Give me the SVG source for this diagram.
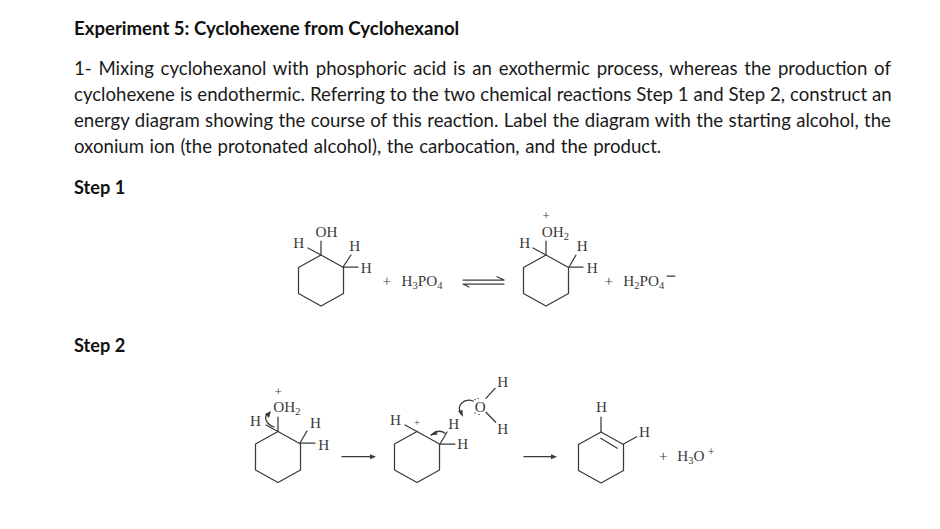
<svg xmlns="http://www.w3.org/2000/svg" width="940" height="529" viewBox="0 0 940 529">
<style>
.t{font-family:"Lato","Liberation Sans",sans-serif;font-size:18.6px;fill:#1a1a1a}
.b{font-weight:700;fill:#111}
.c{font-family:"Liberation Serif",serif;font-size:15.2px;fill:#3a3a3a}
.s{font-size:10.5px}
.p{font-size:12.500px}
.l{fill:none;stroke:#3a3a3a;stroke-width:1.25;stroke-linecap:round;stroke-linejoin:round}
.a{fill:#3a3a3a}
</style>
<defs>
<path id="ring" d="M0 0L22.500 12.500V38.500L0 51L-22.500 38.500V12.500Z"/>
</defs>
<rect width="940" height="529" fill="#fff"/>
<g id="prose">
<text class="t b" x="74" y="34.600">Experiment 5: Cyclohexene from Cyclohexanol</text>
<text class="t" x="74" y="74.600" style="word-spacing:2px">1- Mixing cyclohexanol with phosphoric acid is an exothermic process, whereas the production of</text>
<text class="t" x="74" y="100.600" style="word-spacing:0.2px">cyclohexene is endothermic. Referring to the two chemical reactions Step 1 and Step 2, construct an</text>
<text class="t" x="74" y="126.600" style="word-spacing:0.65px">energy diagram showing the course of this reaction. Label the diagram with the starting alcohol, the</text>
<text class="t" x="74" y="152.600" style="word-spacing:0.8px">oxonium ion (the protonated alcohol), the carbocation, and the product.</text>
<text class="t b" x="74" y="193.600" style="font-size:18.200px">Step 1</text>
<text class="t b" x="74" y="351.600" style="font-size:18.200px">Step 2</text>
</g>
<g id="cyclohexanol">
<use href="#ring" class="l" x="321" y="255"/>
<path class="l" d="M321 255V241M321 255L308 248M343 267L351 255M343 267H358"/>
<text class="c" x="315.500" y="236.700">OH</text>
<text class="c" x="293.300" y="247.700">H</text>
<text class="c" x="349.300" y="251">H</text>
<text class="c" x="360.700" y="272.700">H</text>
</g>
<g id="reagent-h3po4">
<text class="c" x="382.500" y="286">+</text>
<text class="c" x="401.500" y="286">H<tspan class="s" dy="3">3</tspan><tspan dy="-3">PO</tspan><tspan class="s" dy="3">4</tspan></text>
</g>
<g id="oxonium-1">
<use href="#ring" class="l" x="546" y="255"/>
<path class="l" d="M546 255V241M546 255L533 248M569 267L576 255M569 267H583"/>
<text class="c" x="541.700" y="236.700">OH<tspan class="s" dy="3">2</tspan></text>
<text class="c p" x="542.500" y="220.300">+</text>
<text class="c" x="519.300" y="247.700">H</text>
<text class="c" x="576.700" y="251">H</text>
<text class="c" x="586.700" y="272.700">H</text>
</g>
<g id="product-h2po4">
<text class="c" x="604.500" y="286">+</text>
<text class="c" x="623.300" y="286">H<tspan class="s" dy="3">2</tspan><tspan dy="-3">PO</tspan><tspan class="s" dy="3">4</tspan></text>
<path class="l" d="M667 276H675"/>
</g>
<g id="oxonium-2">
<use href="#ring" class="l" x="278" y="431.500"/>
<path class="l" d="M278 431.500V417M278 431.500L266 425M300 443L307 431M300 443H315"/>
<text class="c" x="273.300" y="412.300">OH<tspan class="s" dy="3">2</tspan></text>
<text class="c p" x="274.800" y="395.800">+</text>
<text class="c" x="250" y="425.700">H</text>
<text class="c" x="310" y="428.300">H</text>
<text class="c" x="318.300" y="450">H</text>
<path class="l" d="M274 427C266 424 264 418 267 414"/>
<path class="a" d="M271 411L269 418L265 414Z"/>
</g>
<g id="carbocation">
<use href="#ring" class="l" x="417" y="431.500"/>
<path class="l" d="M417 431.500L405 425M440 444L447 432M440 444H455"/>
<text class="c" x="390" y="425">H</text>
<text class="c s" x="414" y="426">+</text>
<text class="c" x="448.300" y="429">H</text>
<text class="c" x="457.300" y="449.300">H</text>
<path class="l" d="M445 433.300C441 430 436 431 431 435"/>
<path class="a" d="M430.500 435.500L436 430.500L437.500 434.500Z"/>
</g>
<g id="water">
<text class="c" x="474.800" y="411.700">O</text>
<path class="l" d="M486 398.300L495 388.300M486 412.300L495.700 422.300"/>
<text class="c" x="497.300" y="386.700">H</text>
<text class="c" x="497.300" y="434.300">H</text>
<path class="l" d="M473.300 401C464 398 456 405 461 414"/>
<path class="a" d="M463 417L458 411L462.500 410Z"/>
<g class="a"><circle cx="475" cy="399.500" r="0.7"/><circle cx="478" cy="398.500" r="0.7"/><circle cx="475" cy="413" r="0.7"/><circle cx="479" cy="414.500" r="0.7"/></g>
</g>
<g id="cyclohexene">
<use href="#ring" class="l" x="601" y="432"/>
<path class="l" d="M601 432V417M623.500 444L636.700 436.700M600.700 438.300L617.300 448.300"/>
<text class="c" x="596" y="411.700">H</text>
<text class="c" x="639" y="436.700">H</text>
</g>
<g id="product-h3o">
<text class="c" x="659" y="461">+</text>
<text class="c" x="677.300" y="461">H<tspan class="s" dy="3">3</tspan><tspan dy="-3">O</tspan></text>
<text class="c p" x="707.500" y="456">+</text>
</g>
<g id="connectors">
<path class="l" d="M463 280H504L497 276.700M504 284H463L469 287"/>
<path class="l" d="M342 456.700H372"/><path class="a" d="M376 456.700L370 454.200V459.200Z"/>
<path class="l" d="M524 456.700H552"/><path class="a" d="M557 456.700L551 454.200V459.200Z"/>
</g>
</svg>
